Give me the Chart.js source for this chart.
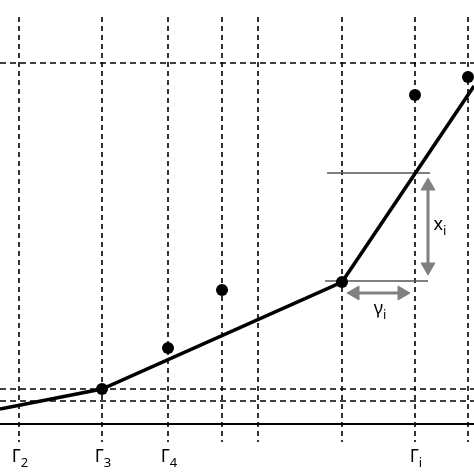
<!DOCTYPE html>
<html>
<head>
<meta charset="utf-8">
<script src="https://cdn.jsdelivr.net/npm/chart.js@4/dist/chart.umd.min.js"></script>
<style>
  html, body { margin: 0; padding: 0; background: #ffffff; }
  #chart { display: block; }
</style>
</head>
<body>
<canvas id="chart" width="474" height="474"></canvas>
<script>
// values (x to the right, y downward, both in picture units)
const gridX = [19, 102, 168, 222, 258, 342, 415, 468];
const gridTop = 17;
const gridBottom = 442;
const levelY = [63, 389, 401];
const baseY = 424;

const fitX = [0, 102, 342, 474];
const fitY = [409, 389, 282, 86];

const pointX = [102, 168, 222, 342, 415, 468];
const pointY = [389, 348, 290, 282, 95, 77];

const gammaX = [19, 102, 168, 415];
const gammaSub = ['2', '3', '4', 'i'];

// x_i / gamma_i construction
const guideY = [173, 281];
const guideFrom = [327, 325];
const guideTo = [430, 428];
const xiArrowX = 428;
const xiArrowY = [178, 275];     // tips
const gammaArrowY = 293;
const gammaArrowX = [347, 410];  // tips
const headSize = 8;

const datasets = [];

// dots
datasets.push({
    data: pointX.map((x, i) => ({ x: x, y: pointY[i] })),
    showLine: false,
    pointRadius: 6,
    pointBackgroundColor: '#000000',
    pointBorderWidth: 0,
    order: 0
});

// fitted polyline
datasets.push({
    data: fitX.map((x, i) => ({ x: x, y: fitY[i] })),
    showLine: true,
    borderColor: '#000000',
    borderWidth: 3.5,
    pointRadius: 0,
    order: 1
});

// arrows: triangle centres are pulled in by the head size so the tips land on the ends
datasets.push({
    data: [{ x: xiArrowX, y: xiArrowY[0] + headSize }, { x: xiArrowX, y: xiArrowY[1] - headSize }],
    showLine: true,
    borderColor: '#808080',
    borderWidth: 3,
    pointStyle: 'triangle',
    pointRadius: headSize,
    pointRotation: [0, 180],
    pointBackgroundColor: '#808080',
    pointBorderColor: '#808080',
    pointBorderWidth: 1,
    order: 2
});
datasets.push({
    data: [{ x: gammaArrowX[0] + headSize, y: gammaArrowY }, { x: gammaArrowX[1] - headSize, y: gammaArrowY }],
    showLine: true,
    borderColor: '#808080',
    borderWidth: 3,
    pointStyle: 'triangle',
    pointRadius: headSize,
    pointRotation: [270, 90],
    pointBackgroundColor: '#808080',
    pointBorderColor: '#808080',
    pointBorderWidth: 1,
    order: 2
});

// thin guide lines
guideY.forEach((y, i) => {
    datasets.push({
        data: [{ x: guideFrom[i], y: y }, { x: guideTo[i], y: y }],
        showLine: true,
        borderColor: '#555555',
        borderWidth: 1.5,
        pointRadius: 0,
        order: 3
    });
});

// baseline
datasets.push({
    data: [{ x: 0, y: baseY }, { x: 474, y: baseY }],
    showLine: true,
    borderColor: '#000000',
    borderWidth: 2,
    pointRadius: 0,
    order: 4
});

// dashed levels
levelY.forEach(y => {
    datasets.push({
        data: [{ x: 0, y: y }, { x: 474, y: y }],
        showLine: true,
        borderColor: '#000000',
        borderWidth: 1.6,
        borderDash: [6, 4],
        pointRadius: 0,
        order: 5
    });
});

// dashed verticals
gridX.forEach(x => {
    datasets.push({
        data: [{ x: x, y: gridTop }, { x: x, y: gridBottom }],
        showLine: true,
        borderColor: '#000000',
        borderWidth: 1.6,
        borderDash: [5, 4],
        pointRadius: 0,
        order: 5
    });
});

// text with subscript, centred on x
function subText(ctx, main, sub, cx, baseline, size, color) {
    ctx.save();
    ctx.fillStyle = color;
    ctx.textBaseline = 'alphabetic';
    ctx.textAlign = 'left';
    const mainFont = size + 'px "Noto Sans", sans-serif';
    const subFont = Math.round(size * 0.72) + 'px "Noto Sans", sans-serif';
    ctx.font = mainFont;
    const w1 = ctx.measureText(main).width;
    ctx.font = subFont;
    const w2 = ctx.measureText(sub).width;
    const left = cx - (w1 + w2) / 2;
    ctx.font = mainFont;
    ctx.fillText(main, left, baseline);
    ctx.font = subFont;
    ctx.fillText(sub, left + w1, baseline + size * 0.25);
    ctx.restore();
}

const labelPlugin = {
    id: 'labels',
    afterDatasetsDraw(chart) {
        const ctx = chart.ctx;
        const xs = chart.scales.x;
        const ys = chart.scales.y;
        gammaX.forEach((x, i) => {
            subText(ctx, 'Γ', gammaSub[i], xs.getPixelForValue(x) + 1, ys.getPixelForValue(462), 18, '#000000');
        });
        subText(ctx, 'x', 'i', xs.getPixelForValue(440), ys.getPixelForValue(230), 18, '#000000');
        subText(ctx, 'γ', 'i', xs.getPixelForValue(380), ys.getPixelForValue(314), 18, '#000000');
    }
};

new Chart(document.getElementById('chart'), {
    type: 'scatter',
    data: { datasets: datasets },
    options: {
        responsive: false,
        animation: false,
        layout: { padding: 0, autoPadding: false },
        clip: false,
        plugins: {
            legend: { display: false },
            tooltip: { enabled: false }
        },
        scales: {
            x: { type: 'linear', min: 0, max: 474, display: false },
            y: { type: 'linear', min: 0, max: 474, reverse: true, display: false }
        }
    },
    plugins: [labelPlugin]
});
</script>
</body>
</html>
